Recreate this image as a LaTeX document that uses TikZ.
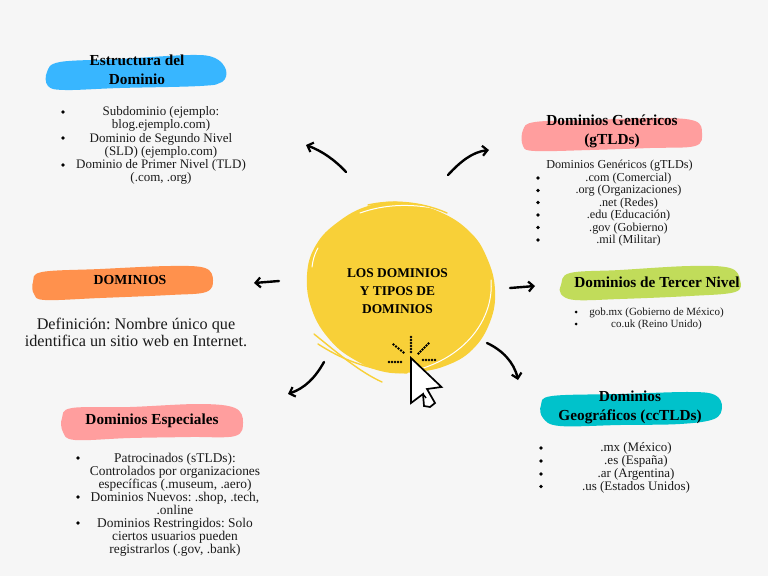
\documentclass[tikz,border=0pt]{standalone}
\usepackage{fontspec}
\setmainfont{Liberation Serif}
\usetikzlibrary{arrows.meta,calc}
\definecolor{bgc}{HTML}{F6F6F6}
\definecolor{yel}{HTML}{F8D038}
\definecolor{blu}{HTML}{38B6FF}
\definecolor{pnk}{HTML}{FF9E9E}
\definecolor{org}{HTML}{FF914D}
\definecolor{lim}{HTML}{C1DC5A}
\definecolor{tea}{HTML}{00C2CB}
\definecolor{ink}{HTML}{1A1A1A}
\tikzset{
 blob/.style={fill=#1,draw=none},
 head/.style={font=\fontsize{15.3}{19}\selectfont\bfseries,text=black,align=center,inner sep=0pt},
 body/.style={font=\fontsize{13}{13.2}\selectfont,text=ink,align=center,inner sep=0pt},
 small/.style={font=\fontsize{12.2}{12.4}\selectfont,text=ink,align=center,inner sep=0pt},
 dotb/.style={circle,fill=black,draw=none,minimum size=3.6pt,inner sep=0pt},
 conn/.style={draw=black,line width=2.4pt,line cap=round,-{Straight Barb[length=5pt,width=10pt,line width=2.2pt]}},
 sketch/.style={draw=yel,line width=1.4pt,line cap=round},
 whitel/.style={draw=white,line width=1pt,line cap=round},
}
\begin{document}
\begin{tikzpicture}[x=1pt,y=-1pt]
\frenchspacing
\useasboundingbox (0,0) rectangle (768,576);
\fill[bgc] (0,0) rectangle (768,576);
% centre circle
\fill[yel] plot[smooth cycle,tension=0.7] coordinates {(402,202)(440,212)(470,232)(487,258)(495,290)(490,322)(472,350)(445,366)(415,372)(385,372)(355,360)(330,340)(312,310)(307,275)(316,245)(338,222)(368,206)};
\draw[whitel] (360,213) .. controls (385,204) and (410,204) .. (433,208);
\draw[whitel] (491,280) .. controls (494,315) and (470,355) .. (417,370);
\draw[whitel] (312,267) .. controls (313,260) and (314,255) .. (318,248);
\draw[sketch] (314,334) .. controls (340,355) and (360,372) .. (382,382);
\draw[sketch] (318,344) .. controls (340,358) and (365,370) .. (407,373);
\draw[sketch] (368,205) .. controls (390,200) and (420,201) .. (447,213);
\node[head,font=\fontsize{13.4}{18.2}\selectfont\bfseries] (centre) at (397.5,291) {LOS DOMINIOS\\Y TIPOS DE\\DOMINIOS};
% cursor
\draw[black,fill=white,line width=1.7pt,line join=miter] (411,358) -- (441.5,387) -- (427,389) -- (435,403) -- (430,407) -- (424,406) -- (423,394) -- (411,403) -- cycle;
\draw[black,line width=1.4pt] (423,394) -- (426,398);
\foreach \y in {337,340,343,346,349,352}{\fill[black] (411,\y) circle[radius=1.35pt];}
\foreach \x in {389,392,395,398,401}{\fill[black] (\x,362) circle[radius=1.3pt];}
\foreach \x in {423,426,429,432,435}{\fill[black] (\x,360) circle[radius=1.3pt];}
\foreach \x/\y in {393.5/344.5,396/346.5,398.5/348.5,401/350.5,403.5/352.5}{\fill[black] (\x,\y) circle[radius=1.35pt];}
\foreach \x/\y in {428.5/343.5,426.5/345.5,424.5/347.5,422.5/349.5,420.5/351.5,418.5/353.5}{\fill[black] (\x,\y) circle[radius=1.35pt];}
% Blobs
\fill[blob=blu] plot[smooth cycle,tension=0.6] coordinates {(47,72)(60,62)(120,59)(190,55)(215,58)(226,70)(222,82)(200,86)(120,88)(65,90)(48,86)};
\node[head] (estructura) at (137,70) {Estructura del\\Dominio};
\fill[blob=pnk] plot[smooth cycle,tension=0.6] coordinates {(523,130)(535,122)(590,120)(660,118)(695,121)(702,133)(695,146)(650,148)(590,150)(535,151)(523,146)};
\node[head] (genericos) at (612,131) {Dominios Genéricos\\(gTLDs)};
\fill[blob=org] plot[smooth cycle,tension=0.6] coordinates {(33,282)(42,272)(100,269)(170,266)(205,268)(213,280)(206,292)(170,295)(100,298)(45,300)(34,294)};
\node[head,font=\fontsize{13.8}{19}\selectfont\bfseries] (dominios) at (130,280) {DOMINIOS};
\fill[blob=lim] plot[smooth cycle,tension=0.6] coordinates {(561,285)(570,273)(620,270)(690,266)(730,268)(740,280)(735,292)(690,296)(620,299)(575,300)(561,294)};
\node[head] (tercer) at (657,282) {Dominios de Tercer Nivel};
\fill[blob=pnk] plot[smooth cycle,tension=0.6] coordinates {(62,418)(72,408)(130,407)(200,404)(235,408)(243,422)(235,436)(190,437)(130,438)(75,440)(63,432)};
\node[head] (especiales) at (152,421) {Dominios Especiales};
\fill[blob=tea] plot[smooth cycle,tension=0.6] coordinates {(541,405)(552,396)(620,394)(690,392)(715,395)(722,407)(714,419)(680,424)(620,425)(560,426)(543,418)};
\node[head] (geo) at (630,407) {Dominios\\Geográficos (ccTLDs)};
% Body texts
\node[body] (t1) at (161,145.5) {Subdominio (ejemplo:\\blog.ejemplo.com)\\Dominio de Segundo Nivel\\(SLD) (ejemplo.com)\\Dominio de Primer Nivel (TLD)\\(.com, .org)};
\foreach \y/\n in {112/a,138/b,165/c}{\node[dotb] (e\n) at (63,\y) {};}
\node[small] (t2h) at (619.5,165.5) {Dominios Genéricos (gTLDs)};
\node[small] (t2) at (628.5,209.5) {.com (Comercial)\\.org (Organizaciones)\\.net (Redes)\\.edu (Educación)\\.gov (Gobierno)\\.mil (Militar)};
\foreach \y/\n in {178/a,190.5/b,202.5/c,215/d,227.5/e,240/f}{\node[dotb] (g\n) at (538,\y) {};}
\node[body,font=\fontsize{16.2}{17}\selectfont] (t3) at (136,332) {Definición: Nombre único que\\identifica un sitio web en Internet.};
\node[small,font=\fontsize{11}{12}\selectfont] (t4) at (656.5,319) {gob.mx (Gobierno de México)\\co.uk (Reino Unido)};
\foreach \y/\n in {312/a,324/b}{\node[dotb,minimum size=3pt] (m\n) at (576,\y) {};}
\node[small,font=\fontsize{13}{13}\selectfont] (t5) at (636,468) {.mx (México)\\.es (España)\\.ar (Argentina)\\.us (Estados Unidos)};
\foreach \y/\n in {448/a,461/b,474/c,486.5/d}{\node[dotb] (c\n) at (541,\y) {};}
\node[body,font=\fontsize{13.4}{13}\selectfont] (t6) at (175,504.5) {Patrocinados (sTLDs):\\Controlados por organizaciones\\específicas (.museum, .aero)\\Dominios Nuevos: .shop, .tech,\\.online\\Dominios Restringidos: Solo\\ciertos usuarios pueden\\registrarlos (.gov, .bank)};
\foreach \y/\n in {458/a,497/b,523/c}{\node[dotb] (s\n) at (78,\y) {};}
% connectors
\coordinate (a1) at (346,172); \coordinate (a2) at (448,175); \coordinate (a3) at (279,281);
\coordinate (a4) at (510,288); \coordinate (a5) at (324,362); \coordinate (a6) at (487,343);
\coordinate (b1) at (306,145); \coordinate (b2) at (489,150); \coordinate (b3) at (254,283);
\coordinate (b4) at (535,286); \coordinate (b5) at (288,394); \coordinate (b6) at (518,380);
\draw[conn] (a1) .. controls (335,160) and (322,151) .. (b1);
\draw[conn] (a2) .. controls (460,162) and (472,152) .. (b2);
\draw[conn] (a3) -- (b3);
\draw[conn] (a4) -- (b4);
\draw[conn] (a5) .. controls (315,378) and (305,388) .. (b5);
\draw[conn] (a6) .. controls (502,350) and (514,362) .. (b6);
\end{tikzpicture}
\end{document}
